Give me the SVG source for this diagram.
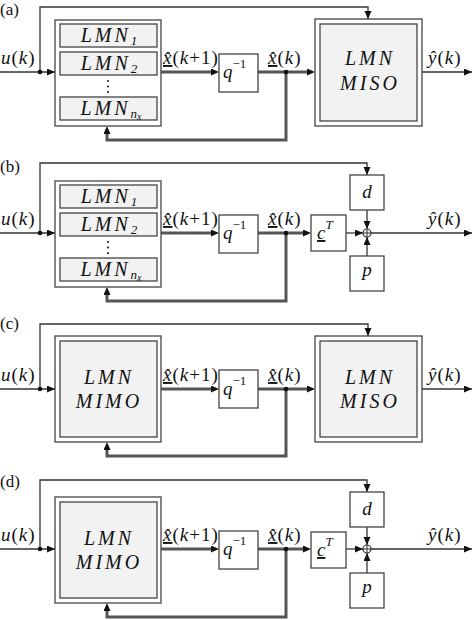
<svg xmlns="http://www.w3.org/2000/svg" width="474" height="620" viewBox="0 0 474 620">
<style>
.t{font-family:"Liberation Serif","Times New Roman",serif;font-size:19px;fill:#111}
.sig{letter-spacing:1px}
.i{font-style:italic}
.lmn{font-family:"Liberation Serif","Times New Roman",serif;font-style:italic;font-size:20px;letter-spacing:3px;fill:#111;text-anchor:middle}
.sm{font-size:13px;letter-spacing:0}
.xs{font-size:10px;letter-spacing:0}
.ul{text-decoration:underline}
.thin{stroke:#333;stroke-width:1.3;fill:none}
.thick{stroke:#555;stroke-width:3;fill:none}
.box{fill:#fff;stroke:#444;stroke-width:1.3}
.gbox{fill:#f2f2f2;stroke:#444;stroke-width:1.3}
.dot{fill:#111}
</style>
<defs>
<marker id="ah" markerUnits="userSpaceOnUse" markerWidth="9" markerHeight="8" refX="8" refY="3.5" orient="auto"><path d="M0,0 L8,3.5 L0,7 z" fill="#111"/></marker>
<marker id="aht" markerUnits="userSpaceOnUse" markerWidth="9" markerHeight="8" refX="2" refY="3.5" orient="auto"><path d="M0,0 L8,3.5 L0,7 z" fill="#111"/></marker>
</defs>

<g id="labels" class="t" style="font-size:17px">
<text x="0" y="15">(a)</text>
<text x="0" y="172">(b)</text>
<text x="0" y="329">(c)</text>
<text x="0" y="487">(d)</text>
</g>

<g id="connectors">
<!-- (a) -->
<path class="thin" d="M0,72 H55" marker-end="url(#ah)"/>
<path class="thin" d="M40,72 V7 H368 V19" marker-end="url(#ah)"/>
<path class="thick" d="M161,72 H213" marker-end="url(#aht)"/>
<path class="thick" d="M258,72 H309" marker-end="url(#aht)"/>
<path class="thick" d="M286,72 V140 H107 V132" marker-end="url(#aht)"/>
<path class="thin" d="M422,72 H472" marker-end="url(#ah)"/>
<circle class="dot" cx="40" cy="72" r="2.3"/>
<circle class="dot" cx="286" cy="72" r="2.3"/>
<!-- (b) -->
<path class="thin" d="M0,233 H55" marker-end="url(#ah)"/>
<path class="thin" d="M40,233 V163 H367 V175" marker-end="url(#ah)"/>
<path class="thick" d="M161,233 H213" marker-end="url(#aht)"/>
<path class="thick" d="M258,233 H305" marker-end="url(#aht)"/>
<path class="thick" d="M286,233 V301 H107 V293" marker-end="url(#aht)"/>
<path class="thin" d="M346,233 H363" marker-end="url(#ah)"/>
<path class="thin" d="M367,210 V229" marker-end="url(#ah)"/>
<path class="thin" d="M367,256 V237" marker-end="url(#ah)"/>
<path class="thin" d="M371,233 H472" marker-end="url(#ah)"/>
<circle class="dot" cx="40" cy="233" r="2.3"/>
<circle class="dot" cx="286" cy="233" r="2.3"/>
<!-- (c) -->
<path class="thin" d="M0,389 H55" marker-end="url(#ah)"/>
<path class="thin" d="M40,389 V324 H368 V336" marker-end="url(#ah)"/>
<path class="thick" d="M161,389 H213" marker-end="url(#aht)"/>
<path class="thick" d="M258,389 H309" marker-end="url(#aht)"/>
<path class="thick" d="M286,389 V456 H107 V448" marker-end="url(#aht)"/>
<path class="thin" d="M422,389 H472" marker-end="url(#ah)"/>
<circle class="dot" cx="40" cy="389" r="2.3"/>
<circle class="dot" cx="286" cy="389" r="2.3"/>
<!-- (d) -->
<path class="thin" d="M0,549 H55" marker-end="url(#ah)"/>
<path class="thin" d="M40,549 V480 H367 V492" marker-end="url(#ah)"/>
<path class="thick" d="M161,549 H213" marker-end="url(#aht)"/>
<path class="thick" d="M258,549 H305" marker-end="url(#aht)"/>
<path class="thick" d="M286,549 V617 H107 V609" marker-end="url(#aht)"/>
<path class="thin" d="M346,549 H363" marker-end="url(#ah)"/>
<path class="thin" d="M367,527 V545" marker-end="url(#ah)"/>
<path class="thin" d="M367,573 V553" marker-end="url(#ah)"/>
<path class="thin" d="M371,549 H472" marker-end="url(#ah)"/>
<circle class="dot" cx="40" cy="549" r="2.3"/>
<circle class="dot" cx="286" cy="549" r="2.3"/>
</g>

<g id="signals" class="t sig">
<text x="1" y="64"><tspan class="i">u</tspan>(<tspan class="i">k</tspan>)</text>
<text x="163" y="64"><tspan class="i ul">x̂</tspan>(<tspan class="i">k</tspan>+1)</text>
<text x="268" y="64"><tspan class="i ul">x̂</tspan>(<tspan class="i">k</tspan>)</text>
<text x="428" y="64"><tspan class="i">ŷ</tspan>(<tspan class="i">k</tspan>)</text>

<text x="1" y="225"><tspan class="i">u</tspan>(<tspan class="i">k</tspan>)</text>
<text x="163" y="225"><tspan class="i ul">x̂</tspan>(<tspan class="i">k</tspan>+1)</text>
<text x="268" y="225"><tspan class="i ul">x̂</tspan>(<tspan class="i">k</tspan>)</text>
<text x="428" y="225"><tspan class="i">ŷ</tspan>(<tspan class="i">k</tspan>)</text>

<text x="1" y="381"><tspan class="i">u</tspan>(<tspan class="i">k</tspan>)</text>
<text x="163" y="381"><tspan class="i ul">x̂</tspan>(<tspan class="i">k</tspan>+1)</text>
<text x="268" y="381"><tspan class="i ul">x̂</tspan>(<tspan class="i">k</tspan>)</text>
<text x="428" y="381"><tspan class="i">ŷ</tspan>(<tspan class="i">k</tspan>)</text>

<text x="1" y="541"><tspan class="i">u</tspan>(<tspan class="i">k</tspan>)</text>
<text x="163" y="541"><tspan class="i ul">x̂</tspan>(<tspan class="i">k</tspan>+1)</text>
<text x="268" y="541"><tspan class="i ul">x̂</tspan>(<tspan class="i">k</tspan>)</text>
<text x="428" y="541"><tspan class="i">ŷ</tspan>(<tspan class="i">k</tspan>)</text>
</g>

<!-- (a) nodes -->
<g id="a-lmn-bank">
<rect class="box" x="55" y="20" width="106" height="106"/>
<rect class="gbox" x="60" y="24" width="97" height="23"/>
<rect class="gbox" x="60" y="52" width="97" height="23"/>
<rect class="gbox" x="60" y="97" width="97" height="23"/>
<text class="lmn" x="109" y="42">LMN<tspan class="sm" dy="3">1</tspan></text>
<text class="lmn" x="109" y="70">LMN<tspan class="sm" dy="3">2</tspan></text>
<text class="lmn" x="111" y="115">LMN<tspan class="sm" dy="3">n</tspan><tspan class="xs" dy="2">x</tspan></text>
<circle class="dot" cx="108" cy="81" r="1"/><circle class="dot" cx="108" cy="86.5" r="1"/><circle class="dot" cx="108" cy="92" r="1"/>
</g>
<g id="a-delay">
<rect class="box" x="219" y="54" width="39" height="38"/>
<text class="t" x="223" y="78"><tspan class="i">q</tspan><tspan font-size="13" dy="-10">−1</tspan></text>
</g>
<g id="a-miso">
<rect class="box" x="315" y="19" width="107" height="107"/>
<rect class="gbox" x="320" y="24" width="97" height="97"/>
<text class="lmn" x="370" y="65">LMN</text>
<text class="lmn" x="370" y="90">MISO</text>
</g>

<!-- (b) nodes -->
<g id="b-lmn-bank">
<rect class="box" x="55" y="181" width="106" height="106"/>
<rect class="gbox" x="60" y="185" width="97" height="23"/>
<rect class="gbox" x="60" y="213" width="97" height="23"/>
<rect class="gbox" x="60" y="258" width="97" height="23"/>
<text class="lmn" x="109" y="203">LMN<tspan class="sm" dy="3">1</tspan></text>
<text class="lmn" x="109" y="231">LMN<tspan class="sm" dy="3">2</tspan></text>
<text class="lmn" x="111" y="276">LMN<tspan class="sm" dy="3">n</tspan><tspan class="xs" dy="2">x</tspan></text>
<circle class="dot" cx="108" cy="242" r="1"/><circle class="dot" cx="108" cy="247.5" r="1"/><circle class="dot" cx="108" cy="253" r="1"/>
</g>
<g id="b-delay">
<rect class="box" x="219" y="215" width="39" height="38"/>
<text class="t" x="223" y="239"><tspan class="i">q</tspan><tspan font-size="13" dy="-10">−1</tspan></text>
</g>
<g id="b-ct">
<rect class="box" x="311" y="215" width="35" height="36"/>
<text class="t" x="317" y="239"><tspan class="i ul">c</tspan><tspan class="i" font-size="13" dy="-10">T</tspan></text>
</g>
<g id="b-d">
<rect class="box" x="350" y="175" width="34" height="35"/>
<text class="t i" x="367" y="198" text-anchor="middle">d</text>
</g>
<g id="b-p">
<rect class="box" x="350" y="256" width="34" height="35"/>
<text class="t i" x="367" y="276" text-anchor="middle">p</text>
</g>
<g id="b-sum">
<circle cx="367" cy="233" r="4" fill="#fff" stroke="#333" stroke-width="1.2"/>
<path d="M363,233 H371 M367,229 V237" stroke="#333" stroke-width="1"/>
</g>

<!-- (c) nodes -->
<g id="c-mimo">
<rect class="box" x="55" y="336" width="106" height="106"/>
<rect class="gbox" x="60" y="341" width="97" height="96"/>
<text class="lmn" x="109" y="384">LMN</text>
<text class="lmn" x="109" y="408">MIMO</text>
</g>
<g id="c-delay">
<rect class="box" x="219" y="370" width="39" height="38"/>
<text class="t" x="223" y="395"><tspan class="i">q</tspan><tspan font-size="13" dy="-10">−1</tspan></text>
</g>
<g id="c-miso">
<rect class="box" x="315" y="336" width="107" height="106"/>
<rect class="gbox" x="320" y="341" width="97" height="96"/>
<text class="lmn" x="370" y="384">LMN</text>
<text class="lmn" x="370" y="408">MISO</text>
</g>

<!-- (d) nodes -->
<g id="d-mimo">
<rect class="box" x="55" y="497" width="106" height="106"/>
<rect class="gbox" x="60" y="502" width="97" height="96"/>
<text class="lmn" x="109" y="545">LMN</text>
<text class="lmn" x="109" y="569">MIMO</text>
</g>
<g id="d-delay">
<rect class="box" x="219" y="531" width="39" height="38"/>
<text class="t" x="223" y="555"><tspan class="i">q</tspan><tspan font-size="13" dy="-10">−1</tspan></text>
</g>
<g id="d-ct">
<rect class="box" x="311" y="532" width="35" height="36"/>
<text class="t" x="317" y="556"><tspan class="i ul">c</tspan><tspan class="i" font-size="13" dy="-10">T</tspan></text>
</g>
<g id="d-d">
<rect class="box" x="350" y="492" width="34" height="35"/>
<text class="t i" x="367" y="515" text-anchor="middle">d</text>
</g>
<g id="d-p">
<rect class="box" x="350" y="573" width="34" height="35"/>
<text class="t i" x="367" y="593" text-anchor="middle">p</text>
</g>
<g id="d-sum">
<circle cx="367" cy="549" r="4" fill="#fff" stroke="#333" stroke-width="1.2"/>
<path d="M363,549 H371 M367,545 V553" stroke="#333" stroke-width="1"/>
</g>
</svg>
